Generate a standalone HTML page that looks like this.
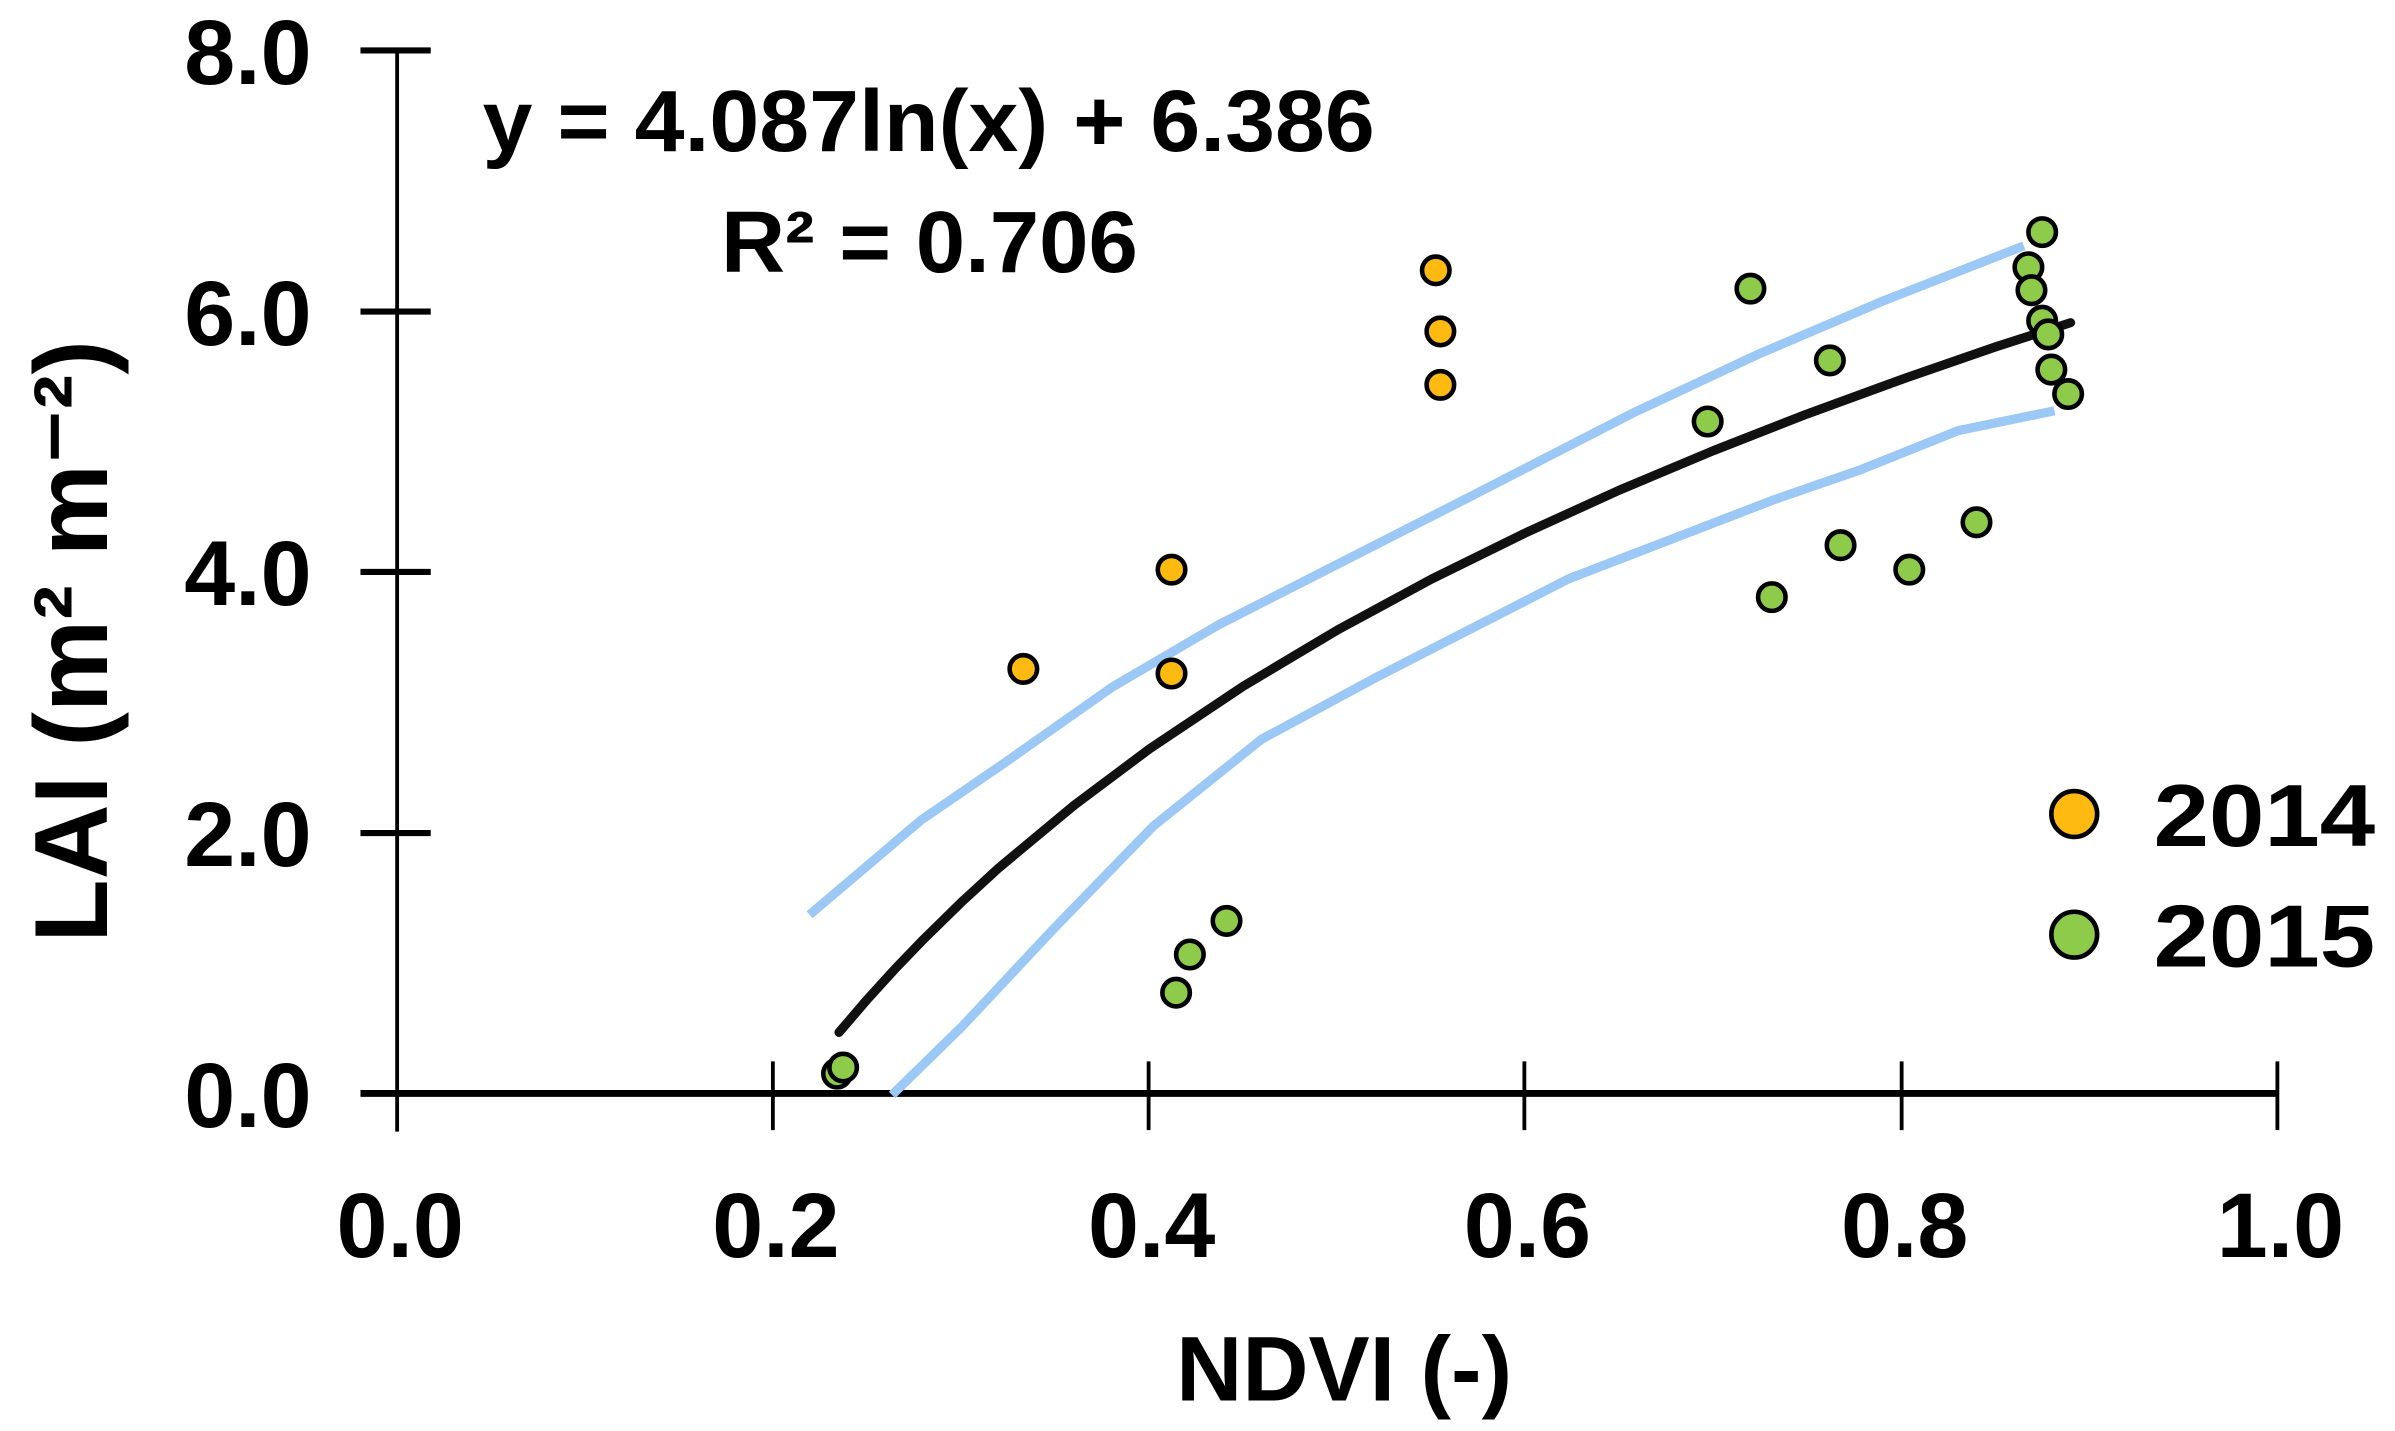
<!DOCTYPE html>
<html><head><meta charset="utf-8"><style>html,body{margin:0;padding:0;background:#fff}svg{display:block}</style></head>
<body>
<svg width="2395" height="1431" viewBox="0 0 1568 937" preserveAspectRatio="none" font-family="'Liberation Sans', sans-serif" font-weight="bold">
<rect width="1568" height="937" fill="#fff"/>
<!-- axes -->
<line x1="260" y1="33" x2="260" y2="741" stroke="#000" stroke-width="2.5"/>
<line x1="236" y1="716" x2="1492" y2="716" stroke="#000" stroke-width="4.5"/>
<g stroke="#000" stroke-width="4">
<line x1="236" y1="33" x2="282" y2="33"/><line x1="236" y1="204" x2="282" y2="204"/><line x1="236" y1="374.5" x2="282" y2="374.5"/><line x1="236" y1="545.5" x2="282" y2="545.5"/>
</g>
<g stroke="#000" stroke-width="2.5">
<line x1="506" y1="695" x2="506" y2="740"/><line x1="752" y1="695" x2="752" y2="740"/><line x1="998" y1="695" x2="998" y2="740"/><line x1="1245" y1="695" x2="1245" y2="740"/><line x1="1491" y1="695" x2="1491" y2="740"/>
</g>
<g font-size="60" text-anchor="end">
<text x="204" y="55">8.0</text><text x="204" y="226">6.0</text><text x="204" y="396">4.0</text><text x="204" y="567">2.0</text><text x="204" y="738">0.0</text>
</g>
<g font-size="60" text-anchor="middle">
<text x="262" y="823">0.0</text><text x="508" y="823">0.2</text><text x="754" y="823">0.4</text><text x="1000" y="823">0.6</text><text x="1247" y="823">0.8</text><text x="1493" y="823">1.0</text>
</g>
<text x="880" y="917" font-size="60" text-anchor="middle">NDVI (-)</text>
<text transform="translate(70,420) rotate(-90)" font-size="68" text-anchor="middle">LAI (m² m⁻²)</text>
<text x="316" y="99" font-size="57" textLength="584" lengthAdjust="spacingAndGlyphs">y = 4.087ln(x) + 6.386</text>
<text x="472" y="178" font-size="57" textLength="273" lengthAdjust="spacingAndGlyphs">R² = 0.706</text>
<!-- blue bands -->
<polyline fill="none" stroke="#9cc8f5" stroke-width="6" stroke-linejoin="round" points="530,599 603,537 657,500 728,450 798,409 961,326 1070,270 1151,232 1233,197 1325,161"/>
<polyline fill="none" stroke="#9cc8f5" stroke-width="6" stroke-linejoin="round" points="584,717 630,672 690,608 755,541 826,484 902,443 1027,379 1162,327 1217,308 1282,282 1345,269"/>
<!-- trend -->
<polyline fill="none" stroke="#111" stroke-width="6" stroke-linecap="round" stroke-linejoin="round" points="549.3,676 567.8,654.4 586.2,634.2 604.7,615 629.3,590.9 653.9,568.3 703.2,527.3 752.4,490.5 814,449.3 875.5,412.6 937,379.3 998.6,349 1060,321 1121.7,295.1 1183,271.1 1244.8,248.5 1306,227.3 1355.6,211.3"/>
<!-- points -->
<g stroke="#000" stroke-width="3" fill="#ffba12">
<circle cx="670" cy="438" r="9"/><circle cx="767" cy="441" r="9"/><circle cx="767" cy="373" r="9"/><circle cx="940" cy="177" r="9"/><circle cx="943" cy="217" r="9"/><circle cx="943" cy="252" r="9"/>
</g>
<g stroke="#000" stroke-width="3" fill="#8fcb4a">
<circle cx="548" cy="703" r="9"/><circle cx="552" cy="699" r="9"/><circle cx="770" cy="650" r="9"/><circle cx="779" cy="625" r="9"/><circle cx="803" cy="603" r="9"/><circle cx="1118" cy="276" r="9"/><circle cx="1146" cy="189" r="9"/><circle cx="1160" cy="391" r="9"/><circle cx="1198" cy="236" r="9"/><circle cx="1205" cy="357" r="9"/><circle cx="1250" cy="373" r="9"/><circle cx="1294" cy="342" r="9"/><circle cx="1328" cy="175" r="9"/><circle cx="1330" cy="190" r="9"/><circle cx="1337" cy="152" r="9"/><circle cx="1337" cy="210" r="9"/><circle cx="1341" cy="219" r="9"/><circle cx="1343" cy="242" r="9"/><circle cx="1354" cy="258" r="9"/>
</g>
<!-- legend -->
<circle cx="1358" cy="533" r="15" fill="#ffba12" stroke="#000" stroke-width="3"/>
<circle cx="1358" cy="612" r="15" fill="#8fcb4a" stroke="#000" stroke-width="3"/>
<text x="1410" y="554" font-size="58" textLength="145" lengthAdjust="spacingAndGlyphs">2014</text>
<text x="1410" y="633" font-size="58" textLength="145" lengthAdjust="spacingAndGlyphs">2015</text>
</svg>
</body></html>
